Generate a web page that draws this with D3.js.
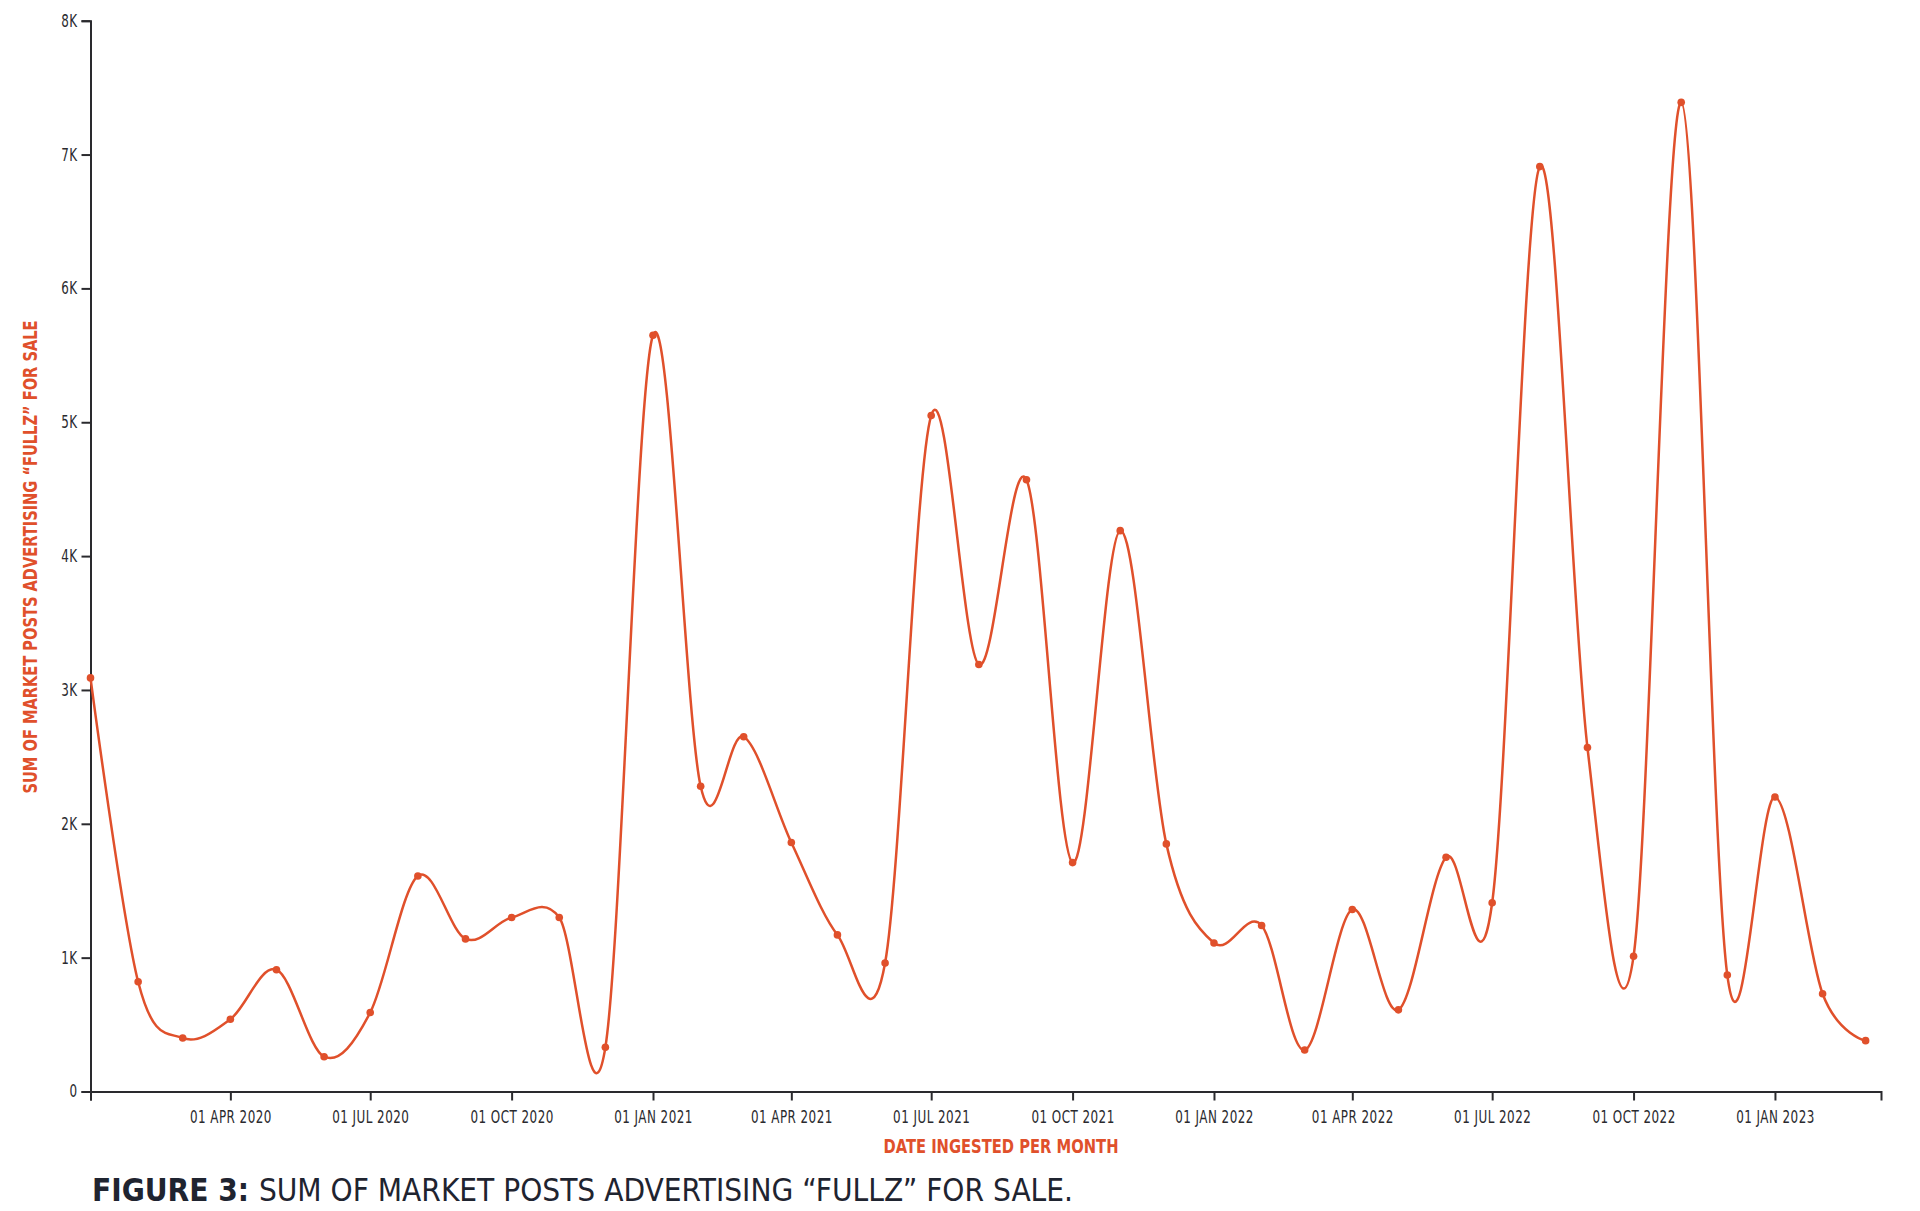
<!DOCTYPE html>
<html>
<head>
<meta charset="utf-8">
<script src="https://cdn.jsdelivr.net/npm/d3@7"></script>
<style>
  body { margin: 0; background: #fff; }
  svg text { font-family: "Liberation Sans Narrow", "DejaVu Sans Condensed", "Roboto", sans-serif; }
</style>
</head>
<body>
<div id="chart"></div>
<script>
// monthly totals, first of each month
var months = [
  '2020-01-01','2020-02-01','2020-03-01','2020-04-01','2020-05-01','2020-06-01',
  '2020-07-01','2020-08-01','2020-09-01','2020-10-01','2020-11-01','2020-12-01',
  '2021-01-01','2021-02-01','2021-03-01','2021-04-01','2021-05-01','2021-06-01',
  '2021-07-01','2021-08-01','2021-09-01','2021-10-01','2021-11-01','2021-12-01',
  '2022-01-01','2022-02-01','2022-03-01','2022-04-01','2022-05-01','2022-06-01',
  '2022-07-01','2022-08-01','2022-09-01','2022-10-01','2022-11-01','2022-12-01',
  '2023-01-01','2023-02-01','2023-03-01'
];
var posts = [
  3090, 820, 400, 540, 910, 260, 590, 1610, 1140, 1300, 1300, 330,
  5650, 2280, 2650, 1860, 1170, 960, 5050, 3190, 4570, 1710, 4190, 1850,
  1110, 1240, 310, 1360, 610, 1750, 1410, 6910, 2570, 1010, 7390, 870,
  2200, 730, 380
];
var yTicks = [0, 1000, 2000, 3000, 4000, 5000, 6000, 7000, 8000];
var xDomain = ['2020-01-01', '2023-03-11'];

var orange = '#e0502b';
var ink = '#2a2a2e';

var width = 1920, height = 1211;
var plotLeft = 90.5, plotRight = 1881, plotTop = 20.7, plotBottom = 1091.5;

var parse = d3.utcParse('%Y-%m-%d');
var data = months.map(function(m, i) { return { date: parse(m), value: posts[i] }; });

var svg = d3.select('#chart').append('svg')
  .attr('width', width)
  .attr('height', height);

var x = d3.scaleUtc()
  .domain(xDomain.map(parse))
  .range([plotLeft, plotRight]);

var y = d3.scaleLinear()
  .domain([0, 8000])
  .range([plotBottom, plotTop]);

// x axis, quarter ticks, no label at the origin
var fmt = d3.utcFormat('%d %b %Y');
var xAxis = svg.append('g')
  .attr('transform', 'translate(0,' + plotBottom + ')')
  .call(d3.axisBottom(x)
    .ticks(d3.utcMonth.every(3))
    .tickSize(9)
    .tickPadding(10)
    .tickFormat(function(d, i) { return i === 0 ? '' : fmt(d).toUpperCase(); }));

// y axis
var yAxis = svg.append('g')
  .attr('transform', 'translate(' + plotLeft + ',0)')
  .call(d3.axisLeft(y)
    .tickValues(yTicks)
    .tickSize(9)
    .tickPadding(4)
    .tickFormat(function(d) { return d === 0 ? '0' : (d / 1000) + 'K'; }));

[xAxis, yAxis].forEach(function(g) {
  g.select('.domain').attr('stroke', ink).attr('stroke-width', 2);
  g.selectAll('.tick line').attr('stroke', ink).attr('stroke-width', 2);
  g.selectAll('.tick text')
    .attr('fill', ink)
    .style('font-size', '17px')
    .style('letter-spacing', '0.6px');
});

// squeeze tick labels to look condensed
svg.selectAll('.tick text').each(function() {
  var len = this.getComputedTextLength();
  if (len > 0) {
    d3.select(this)
      .attr('textLength', len * 0.78)
      .attr('lengthAdjust', 'spacingAndGlyphs');
  }
});

// line
var line = d3.line()
  .x(function(d) { return x(d.date); })
  .y(function(d) { return y(d.value); })
  .curve(d3.curveCardinal.tension(0));

svg.append('path')
  .datum(data)
  .attr('fill', 'none')
  .attr('stroke', orange)
  .attr('stroke-width', 2.5)
  .attr('d', line);

svg.selectAll('circle.pt')
  .data(data)
  .enter().append('circle')
  .attr('class', 'pt')
  .attr('cx', function(d) { return x(d.date); })
  .attr('cy', function(d) { return y(d.value); })
  .attr('r', 3.8)
  .attr('fill', orange);

// axis titles
svg.append('text')
  .attr('x', 1001)
  .attr('y', 1153)
  .attr('text-anchor', 'middle')
  .attr('fill', orange)
  .style('font-weight', 'bold')
  .style('font-size', '19px')
  .attr('textLength', 235)
  .attr('lengthAdjust', 'spacingAndGlyphs')
  .text('DATE INGESTED PER MONTH');

svg.append('text')
  .attr('transform', 'translate(37,557) rotate(-90)')
  .attr('text-anchor', 'middle')
  .attr('fill', orange)
  .style('font-weight', 'bold')
  .style('font-size', '19px')
  .attr('textLength', 473)
  .attr('lengthAdjust', 'spacingAndGlyphs')
  .text('SUM OF MARKET POSTS ADVERTISING \u201CFULLZ\u201D FOR SALE');

// figure caption
var cap = svg.append('text')
  .attr('x', 92)
  .attr('y', 1201)
  .attr('fill', '#1f2430')
  .style('font-size', '32px')
  .attr('textLength', 981)
  .attr('lengthAdjust', 'spacingAndGlyphs');
cap.append('tspan').style('font-weight', 'bold').text('FIGURE 3: ');
cap.append('tspan').text('SUM OF MARKET POSTS ADVERTISING \u201CFULLZ\u201D FOR SALE.');
</script>
</body>
</html>
